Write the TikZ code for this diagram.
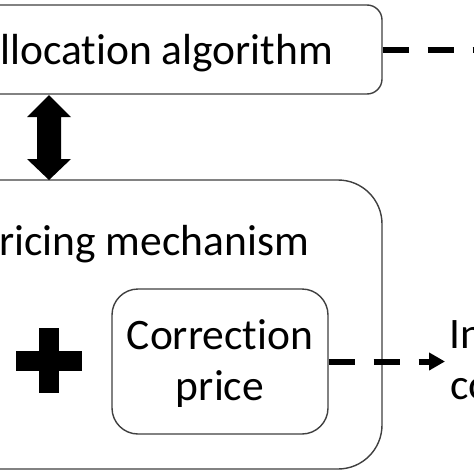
\documentclass[tikz,border=0pt]{standalone}
\usepackage{fontspec}
\setmainfont{Carlito}[Ligatures=NoCommon]
\usetikzlibrary{arrows.meta}
\begin{document}
\begin{tikzpicture}[x=1pt,y=-1pt,
  boxstyle/.style={draw=black!75, line width=1.4pt, fill=white, inner sep=0pt},
  txt/.style={inner sep=0pt, anchor=base west, font=\fontsize{43.5}{52}\selectfont},
  txtc/.style={inner sep=0pt, anchor=base, font=\fontsize{43.5}{52}\selectfont},
  dashline/.style={line width=6pt, dash pattern=on 26pt off 19pt},
  solidshape/.style={fill=black}]
\useasboundingbox (0,0) rectangle (474,474);
\clip (0,0) rectangle (474,474);
\fill[white] (0,0) rectangle (474,474);

% boxes
\node[boxstyle, rounded corners=15pt, minimum width=442pt, minimum height=89pt] (alloc) at (161,49.5) {};
\node[boxstyle, rounded corners=44pt, minimum width=442pt, minimum height=289pt] (pricing) at (161,324.5) {};
\node[boxstyle, rounded corners=26pt, minimum width=216pt, minimum height=145pt] (corr) at (220,361.5) {};

% texts
\node[txt] (alloctxt) at (0,64) {llocation algorithm};
\node[txt] (pricetxt) at (-1,255) {ricing mechanism};
\node[txtc] (corr1) at (220,349) {Correction};
\node[txtc] (corr2) at (220,400) {price};
\node[txt] (out1) at (449,348) {In};
\node[txt] (out2) at (450,399) {co};

% double arrow between allocation and pricing
\fill[solidshape] (49,95) -- (71,117) -- (61,117) -- (61,159) -- (71,159) -- (49,180)
  -- (27,159) -- (37,159) -- (37,117) -- (27,117) -- cycle;

% plus sign
\fill[solidshape] (39,328) rectangle (59,393);
\fill[solidshape] (16,351) rectangle (82,371);

% dashed connectors
\coordinate (farright) at (530,49.5);
\coordinate (tipc) at (445,361.5);
\draw[dashline] (alloc.east) -- (farright);
\draw[dashline, -{Triangle[length=16pt,width=17pt]}] (corr.east) -- (tipc);
\end{tikzpicture}
\end{document}
